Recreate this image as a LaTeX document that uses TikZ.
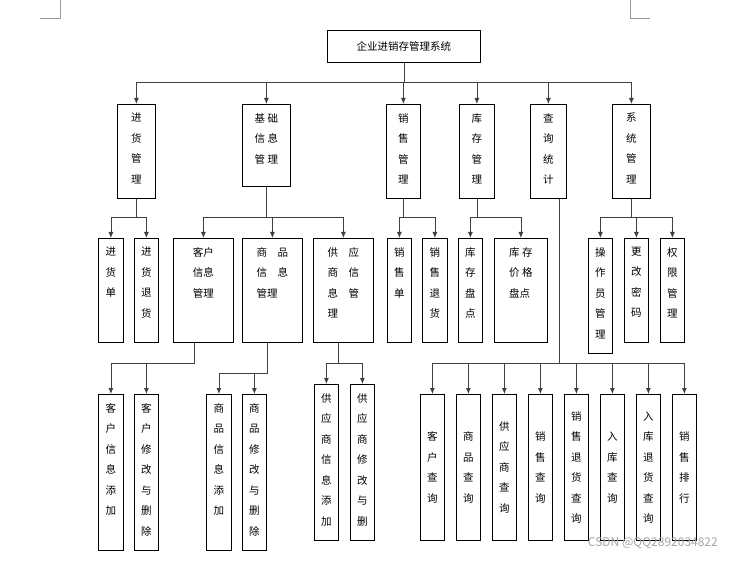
\documentclass[tikz,border=0pt]{standalone}
\usepackage{fontspec}
\setmainfont{Noto Sans CJK SC}
\usetikzlibrary{arrows.meta}
\tikzset{
  bx/.style={draw=black, line width=0.8pt, inner sep=0pt, anchor=north west},
  tx/.style={anchor=north, align=left, inner sep=0pt, font=\fontsize{10.5}{20.5}\selectfont},
  ln/.style={draw=black!75, line width=0.8pt},
  ar/.style={ln, -{Latex[length=6pt,width=5pt]}}
}
\newcommand{\bx}[6]{%
  \pgfmathsetmacro{\ww}{#4-#2}\pgfmathsetmacro{\hh}{#5-#3}%
  \node[bx, minimum width=\ww pt, minimum height=\hh pt] (#1) at (#2,#3) {};%
  \node[tx] (#1t) at ([yshift=-9pt]#1.north) {#6};}
\newcommand{\bc}[6]{%
  \pgfmathsetmacro{\ww}{#4-#2}\pgfmathsetmacro{\hh}{#5-#3}%
  \node[bx, minimum width=\ww pt, minimum height=\hh pt] (#1) at (#2,#3) {};%
  \node[tx, anchor=center] (#1t) at (#1.center) {#6};}
\begin{document}
\begin{tikzpicture}[x=1pt,y=-1pt]
\useasboundingbox (0,0) rectangle (731,561);
\draw[black!40] (40,18) -- (60,18) -- (60,0);
\draw[black!40] (650,18) -- (630,18) -- (630,0);
% title
\node[bx, minimum width=153pt, minimum height=32pt] (root) at (327,30) {};
\node[tx, anchor=center] (roott) at (root.center) {企业进销存管理系统};
% level 1
\bx{a}{117}{104}{155}{198}{进\\货\\管\\理}
\bx{b}{242}{104}{290}{186}{基 础\\信 息\\管 理}
\bx{c}{386}{104}{420}{198}{销\\售\\管\\理}
\bx{d}{459}{104}{494}{198}{库\\存\\管\\理}
\bx{e}{530}{104}{566}{198}{查\\询\\统\\计}
\bx{f}{612}{104}{650}{198}{系\\统\\管\\理}
\foreach \n in {a,b,c,d,e,f} \draw[ar] (root.south) -- ++(0,20) -| (\n.north);
% level 2
\bx{a1}{98}{238}{123}{342}{进\\货\\单}
\bx{a2}{134}{238}{158}{342}{进\\货\\退\\货}
\bx{b1}{173}{238}{233}{342}{客户\\信息\\管理}
\bx{b2}{242}{238}{302}{342}{商\hspace{1em}品\\信\hspace{1em}息\\管理}
\bx{b3}{313}{238}{373}{342}{供\hspace{1em}应\\商\hspace{1em}信\\息\hspace{1em}管\\理}
\bx{c1}{387}{238}{411}{342}{销\\售\\单}
\bx{c2}{422}{238}{447}{342}{销\\售\\退\\货}
\bx{d1}{458}{238}{482}{342}{库\\存\\盘\\点}
\bx{d2}{494}{238}{547}{342}{库 存\\价 格\\盘点}
\bx{f1}{588}{238}{612}{353}{操\\作\\员\\管\\理}
\bx{f2}{624}{238}{648}{342}{更\\改\\密\\码}
\bx{f3}{660}{238}{684}{342}{权\\限\\管\\理}
\foreach \n in {a1,a2} \draw[ar] (a.south) -- ++(0,19) -| (\n.north);
\foreach \n in {b1,b2,b3} \draw[ar] (b.south) -- ++(0,31) -| (\n.north);
\foreach \n in {c1,c2} \draw[ar] (c.south) -- ++(0,19) -| (\n.north);
\foreach \n in {d1,d2} \draw[ar] (d.south) -- ++(0,19) -| (\n.north);
\foreach \n in {f1,f2,f3} \draw[ar] (f.south) -- ++(0,19) -| (\n.north);
% level 3
\bx{g1}{98}{394}{123}{550}{客\\户\\信\\息\\添\\加}
\bx{g2}{134}{394}{158}{550}{客\\户\\修\\改\\与\\删\\除}
\bx{h1}{206}{394}{231}{550}{商\\品\\信\\息\\添\\加}
\bx{h2}{242}{394}{266}{550}{商\\品\\修\\改\\与\\删\\除}
\bx{i1}{314}{384}{338}{540}{供\\应\\商\\信\\息\\添\\加}
\bx{i2}{350}{384}{374}{540}{供\\应\\商\\修\\改\\与\\删}
\foreach \n in {g1,g2} \draw[ar] ([xshift=-9pt]b1.south) -- ++(0,21) -| (\n.north);
\foreach \n in {h1,h2} \draw[ar] ([xshift=-5pt]b2.south) -- ++(0,31) -| (\n.north);
\foreach \n in {i1,i2} \draw[ar] ([xshift=-5pt]b3.south) -- ++(0,21) -| (\n.north);
% queries
\bc{q1}{420}{394}{444}{540}{客\\户\\查\\询}
\bc{q2}{456}{394}{480}{540}{商\\品\\查\\询}
\bc{q3}{492}{394}{516}{540}{供\\应\\商\\查\\询}
\bc{q4}{528}{394}{552}{540}{销\\售\\查\\询}
\bc{q5}{564}{394}{588}{540}{销\\售\\退\\货\\查\\询}
\bc{q6}{600}{394}{624}{540}{入\\库\\查\\询}
\bc{q7}{636}{394}{660}{540}{入\\库\\退\\货\\查\\询}
\bc{q8}{672}{394}{696}{540}{销\\售\\排\\行}
\foreach \n in {q1,q2,q3,q4,q5,q6,q7,q8} \draw[ar] ([xshift=11pt]e.south) -- ++(0,165) -| (\n.north);
\node[anchor=east, inner sep=0pt, text=black!35, font=\fontsize{12}{12}\selectfont] (wm) at (718,543) {CSDN @QQ2892034822};
\end{tikzpicture}
\end{document}
